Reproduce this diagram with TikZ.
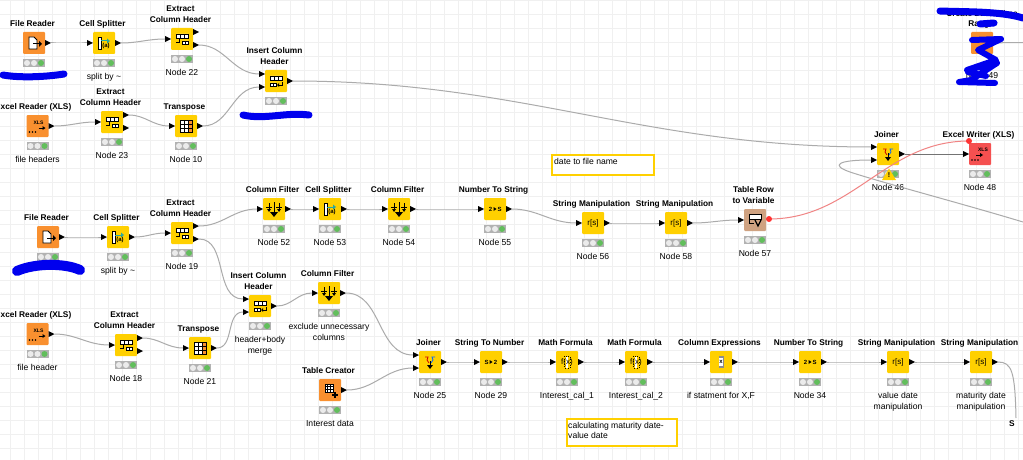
\documentclass[tikz,border=0pt]{standalone}
\usepackage{fontspec}
\setmainfont{Liberation Sans}
\definecolor{kyellow}{HTML}{FFD000}
\definecolor{korange}{HTML}{F9902F}
\definecolor{kred}{HTML}{F55050}
\definecolor{ktan}{HTML}{CFA281}
\definecolor{kgrid}{HTML}{F0F0F0}
\definecolor{kwire}{HTML}{ABABAB}
\definecolor{kflow}{HTML}{F08484}
\definecolor{kgreen}{HTML}{62BE5C}
\definecolor{kblue}{HTML}{0000EE}
\definecolor{kteal}{HTML}{2AA8A0}
\tikzset{
  body/.style={rounded corners=1pt,minimum size=22pt,inner sep=0pt,outer sep=0pt},
  lightbox/.style={fill=black!30,minimum width=22pt,minimum height=8pt,inner sep=0pt,outer sep=0pt},
  toplabel/.style={anchor=south,align=center,inner sep=0pt,text depth=2pt,font=\fontsize{8.3}{10.5}\selectfont\bfseries},
  botlabel/.style={anchor=north,align=center,inner sep=0pt,font=\fontsize{8.6}{10.5}\selectfont},
  icotext/.style={inner sep=0pt,font=\fontsize{6}{6}\selectfont\bfseries},
  wire/.style={draw=kwire,line width=1pt},
  flowwire/.style={draw=kflow,line width=1pt},
  port/.style={fill=black},
  note/.style={draw=kyellow,line width=2pt,fill=white,inner sep=0pt,outer sep=0pt},
  notetext/.style={anchor=north west,align=left,inner sep=0pt,font=\fontsize{8.6}{10.5}\selectfont},
  scribble/.style={draw=kblue,line cap=round,line join=round},
  cell/.style={draw=black,fill=white,line width=.7pt}
}
% ---- icons (drawn around the centre of the node)
\newcommand{\icoFile}{%
  \draw[fill=white,line width=.8pt] (-5,-6) -- (0,-6) -- (3,-3) -- (3,6) -- (-5,6) -- cycle;
  \draw[line width=1pt] (-1,1) -- (6,1);
  \fill (5,-2) -- (8,1) -- (5,4) -- cycle;}
\newcommand{\icoSplit}{%
  \draw[fill=white,line width=.8pt] (-6,-6) rectangle (-3,6);
  \draw[kteal,line width=1pt] (-3,-2) -- (4,-2);
  \fill[kteal] (3,-4.5) -- (6,-2) -- (3,.5) -- cycle;
  \node[icotext] (\cur-ic) at (2,3) {(a)};}
\newcommand{\icoExtract}{%
  \draw[cell] (-6,-5) rectangle (-2,-1) (-2,-5) rectangle (2,-1) (2,-5) rectangle (6,-1);
  \draw[cell] (0,2) rectangle (3,5) (3,2) rectangle (6,5);
  \draw[line width=.9pt] (-3,0) -- (-3,4) (-6,3) -- (-2,3);}
\newcommand{\icoInsert}{%
  \draw[cell] (-6,-5) rectangle (-2,-1) (-2,-5) rectangle (2,-1) (2,-5) rectangle (6,-1);
  \draw[cell] (-6,2) rectangle (-3,5) (-3,2) rectangle (0,5);
  \draw[line width=.9pt] (6,1) -- (6,4) -- (2,4);
  \fill (3,2) -- (1,4) -- (3,6) -- cycle;}
\newcommand{\icoTrans}{%
  \fill[white] (-6,-6) rectangle (6,6);
  \fill[korange] (3,-6) rectangle (6,6);
  \draw[line width=.7pt] (-6,-6) rectangle (6,6)
    (-2,-6) -- (-2,6) (2,-6) -- (2,6) (-6,-2) -- (6,-2) (-6,2) -- (6,2);}
\newcommand{\icoFilter}{%
  \draw[line width=1pt] (0,-7) -- (0,4);
  \fill (-4,3) -- (4,3) -- (0,8) -- cycle;
  \draw[line width=.9pt] (-5,-6) -- (-5,2) (5,-6) -- (5,2) (-8,-2) -- (-2,-2) (2,-2) -- (8,-2);
  \fill (-7,0) -- (-3,0) -- (-5,3) -- cycle (7,0) -- (3,0) -- (5,3) -- cycle;}
\newcommand{\icoXlsRead}{%
  \node[icotext,font=\fontsize{5}{5}\selectfont\bfseries] (\cur-ic) at (1,-3.5) {XLS};
  \draw[line width=.9pt] (1,2) -- (6,2);
  \fill (5,0) -- (8,2) -- (5,4) -- cycle;
  \fill (-8,6) circle (.8) (-5,6) circle (.8) (-2,6) circle (.8);}
\newcommand{\icoXlsWrite}{%
  \node[icotext,font=\fontsize{5}{5}\selectfont\bfseries] (\cur-ic) at (3,-4) {XLS};
  \draw[line width=.9pt] (-4,1) -- (1,1);
  \fill (0,-1) -- (3,1) -- (0,3) -- cycle;
  \fill (-8,6) circle (.8) (-5,6) circle (.8) (-2,6) circle (.8);}
\newcommand{\icoNumStr}{%
  \node[icotext] (\cur-ic) at (-4.5,0) {2};
  \node[icotext] (\cur-ic2) at (4.5,0) {S};
  \fill (-1.5,-2) -- (1.5,0) -- (-1.5,2) -- cycle;}
\newcommand{\icoStrNum}{%
  \node[icotext] (\cur-ic) at (-4.5,0) {S};
  \node[icotext] (\cur-ic2) at (4.5,0) {2};
  \fill (-1.5,-2) -- (1.5,0) -- (-1.5,2) -- cycle;}
\newcommand{\icoStrMan}{%
  \node[icotext,font=\fontsize{8}{8}\selectfont] (\cur-ic) at (0,0) {r[s]};}
\newcommand{\icoMath}{%
  \draw[white,line width=1.6pt] (0,-5.5) -- (0,5.5);
  \draw[line width=.6pt,dotted] (-3,-6) rectangle (3,6);
  \node[icotext,font=\fontsize{8}{8}\selectfont] (\cur-ic) at (0,0) {f(x)};}
\newcommand{\icoExpr}{%
  \fill[black!45] (-2.5,-6) rectangle (2.5,6);
  \fill[white] (-1.8,-4) rectangle (1.8,4);
  \node[icotext] (\cur-ic) at (0,0) {x};}
\newcommand{\icoCreator}{%
  \fill[white] (-5,-6) rectangle (3,2);
  \draw[line width=.6pt] (-5,-6) rectangle (3,2) (-2.3,-6) -- (-2.3,2) (.3,-6) -- (.3,2)
     (-5,-3.3) -- (3,-3.3) (-5,-.7) -- (3,-.7);
  \draw[line width=1.2pt] (2,5) -- (8,5) (5,2) -- (5,8);}
\newcommand{\icoJoin}{%
  \draw[red!80!black,line width=.8pt] (-5,-5) -- (-2,-5) -- (-3,-2) -- (-1,1);
  \draw[blue!60!cyan,line width=.8pt] (5,-5) -- (2,-5) -- (3,-2) -- (1,1);
  \draw[line width=1pt] (0,-1) -- (0,5);
  \fill (-3,3) -- (3,3) -- (0,7) -- cycle;}
\newcommand{\icoRowVar}{%
  \draw[cell] (-6,-6) rectangle (6,-1);
  \draw[line width=.8pt] (-6,-1) -- (-6,3) -- (-1,3);
  \draw[line width=1.2pt] (0,0) -- (3,6) -- (6,0);}
% ---- a workflow node: name, x, y, colour, top label, bottom label, icon
\newcommand{\knode}[7]{%
  \begin{scope}[shift={(#2,#3)}]
    \def\cur{#1}%
    \node[body,fill=#4] (#1) at (0,0) {};
    #7
    \node[lightbox] (#1-lights) at (0,20) {};
    \fill[black!8] (-7,20) circle (3) (0,20) circle (3);
    \fill[kgreen] (7,20) circle (3);
    \node[toplabel] (#1-top) at (-1.5,-14.5) {#5};
    \node[botlabel] (#1-bot) at (0,30.5) {#6};
  \end{scope}}
\newcommand{\inport}[4]{% node, x, y, suffix
  \coordinate (#1-#4) at (#2-17,#3);
  \fill[port] (#2-17,#3-3) -- (#2-11,#3) -- (#2-17,#3+3) -- cycle;}
\newcommand{\outport}[4]{%
  \coordinate (#1-#4) at (#2+17,#3);
  \fill[port] (#2+11,#3-3) -- (#2+17,#3) -- (#2+11,#3+3) -- cycle;}
% one-in/one-out, two-out, two-in helpers
\newcommand{\iopair}[3]{\inport{#1}{#2}{#3}{in}\outport{#1}{#2}{#3}{out}}
\newcommand{\twoout}[3]{\inport{#1}{#2}{#3}{in}\outport{#1}{#2}{#3-7}{outa}\outport{#1}{#2}{#3+6}{outb}}
\newcommand{\twoin}[3]{\inport{#1}{#2}{#3-7}{ina}\inport{#1}{#2}{#3+6}{inb}\outport{#1}{#2}{#3}{out}}
\newcommand{\link}[2]{\draw[wire] (#1) to[out=0,in=180] (#2);}
\begin{document}
\begin{tikzpicture}[x=1pt,y=-1pt]
\useasboundingbox (0,0) rectangle (1023,460);
\fill[white] (0,0) rectangle (1023,460);
\foreach \gx in {10,24,...,1020} \draw[kgrid,line width=.8pt] (\gx,0) -- (\gx,460);
\foreach \gy in {0,14,...,456} \draw[kgrid,line width=.8pt] (0,\gy) -- (1023,\gy);

% annotations
\node[note,minimum width=102pt,minimum height=20pt] (noteA) at (603,165) {};
\node[notetext] (noteAt) at (554,158) {date to file name};
\node[note,minimum width=110pt,minimum height=27pt] (noteB) at (621.5,432.5) {};
\node[notetext] (noteBt) at (568,422) {calculating maturity date-\\value date};

% --- first block
\knode{fra}{34}{43}{korange}{File Reader}{}{\icoFile}\outport{fra}{34}{43}{out}
\knode{csa}{104}{43}{kyellow}{Cell Splitter}{split by \textasciitilde}{\icoSplit}\iopair{csa}{104}{43}
\knode{exa}{182}{39}{kyellow}{Extract\\Column Header}{Node 22}{\icoExtract}\twoout{exa}{182}{39}
\knode{ina}{276}{81}{kyellow}{Insert Column\\Header}{}{\icoInsert}\twoin{ina}{276}{81}
\knode{xra}{37.5}{126}{korange}{xcel Reader (XLS)}{file headers}{\icoXlsRead}\outport{xra}{37.5}{126}{out}
\knode{exb}{112}{122}{kyellow}{Extract\\Column Header}{Node 23}{\icoExtract}\twoout{exb}{112}{122}
\knode{tra}{186}{126}{kyellow}{Transpose}{Node 10}{\icoTrans}\iopair{tra}{186}{126}

% --- second block
\knode{frb}{48}{237}{korange}{File Reader}{}{\icoFile}\outport{frb}{48}{237}{out}
\knode{csb}{118}{237}{kyellow}{Cell Splitter}{split by \textasciitilde}{\icoSplit}\iopair{csb}{118}{237}
\knode{exc}{182}{233}{kyellow}{Extract\\Column Header}{Node 19}{\icoExtract}\twoout{exc}{182}{233}
\knode{cfa}{274}{209}{kyellow}{Column Filter}{Node 52}{\icoFilter}\iopair{cfa}{274}{209}
\knode{csc}{330}{209}{kyellow}{Cell Splitter}{Node 53}{\icoSplit}\iopair{csc}{330}{209}
\knode{cfb}{399}{209}{kyellow}{Column Filter}{Node 54}{\icoFilter}\iopair{cfb}{399}{209}
\knode{nsa}{495}{209}{kyellow}{Number To String}{Node 55}{\icoNumStr}\iopair{nsa}{495}{209}
\knode{sma}{593}{223}{kyellow}{String Manipulation}{Node 56}{\icoStrMan}\iopair{sma}{593}{223}
\knode{smb}{676}{223}{kyellow}{String Manipulation}{Node 58}{\icoStrMan}\iopair{smb}{676}{223}
\knode{trv}{755}{220}{ktan}{Table Row\\to Variable}{Node 57}{\icoRowVar}\inport{trv}{755}{220}{in}
\coordinate (trv-var) at (769,219);
\knode{inb}{260}{306}{kyellow}{Insert Column\\Header}{header+body\\merge}{\icoInsert}\twoin{inb}{260}{306}
\knode{cfc}{329}{293}{kyellow}{Column Filter}{exclude unnecessary\\columns}{\icoFilter}\iopair{cfc}{329}{293}

% --- third block
\knode{xrb}{37.5}{334}{korange}{xcel Reader (XLS)}{file header}{\icoXlsRead}\outport{xrb}{37.5}{334}{out}
\knode{exd}{126}{345}{kyellow}{Extract\\Column Header}{Node 18}{\icoExtract}\twoout{exd}{126}{345}
\knode{trb}{200}{348}{kyellow}{Transpose}{Node 21}{\icoTrans}\iopair{trb}{200}{348}
\knode{joa}{430}{362}{kyellow}{Joiner}{Node 25}{\icoJoin}\twoin{joa}{430}{362}
\knode{tca}{330}{390}{korange}{Table Creator}{Interest data}{\icoCreator}\outport{tca}{330}{390}{out}
\knode{sna}{491}{362}{kyellow}{String To Number}{Node 29}{\icoStrNum}\iopair{sna}{491}{362}
\knode{mfa}{567}{362}{kyellow}{Math Formula}{Interest\_cal\_1}{\icoMath}\iopair{mfa}{567}{362}
\knode{mfb}{636}{362}{kyellow}{Math Formula}{Interest\_cal\_2}{\icoMath}\iopair{mfb}{636}{362}
\knode{cea}{721}{362}{kyellow}{Column Expressions}{if statment for X,F}{\icoExpr}\iopair{cea}{721}{362}
\knode{nsb}{810}{362}{kyellow}{Number To String}{Node 34}{\icoNumStr}\iopair{nsb}{810}{362}
\knode{smc}{898}{362}{kyellow}{String Manipulation}{value date\\manipulation}{\icoStrMan}\iopair{smc}{898}{362}
\knode{smd}{981}{362}{kyellow}{String Manipulation}{maturity date\\manipulation}{\icoStrMan}\iopair{smd}{981}{362}
\node[toplabel,anchor=center,text depth=0pt] (lastS) at (1012,424) {S};
\coordinate (lastEnd) at (1016,418);

% --- right side
\knode{job}{888}{154}{kyellow}{Joiner}{Node 46}{\icoJoin}\twoin{job}{888}{154}
\knode{ewa}{980}{154}{kred}{Excel Writer (XLS)}{Node 48}{\icoXlsWrite}\inport{ewa}{980}{154}{in}
\coordinate (ewa-var) at (969,141);
\fill[kyellow] (889,168.5) -- (896,180) -- (882,180) -- cycle;
\node[icotext,font=\fontsize{7}{7}\selectfont\bfseries] (warn) at (889,175.5) {!};
\coordinate (rightEnd) at (1023,222);
\coordinate (rightOut) at (1023,42.5);
\node[body,fill=korange] (dtr) at (982,43) {};
\node[toplabel] (dtrTop) at (982,19) {Create Date\&Time};
\node[toplabel] (dtrMid) at (981,29) {Range};
\node[botlabel] (dtrBot) at (982,72) {Node 49};

% connectors
\link{fra-out}{csa-in}\link{csa-out}{exa-in}\link{exa-outb}{ina-ina}
\link{xra-out}{exb-in}\link{exb-outa}{tra-in}\link{tra-out}{ina-inb}
\link{ina-out}{job-ina}
\link{frb-out}{csb-in}\link{csb-out}{exc-in}\link{exc-outa}{cfa-in}\link{cfa-out}{csc-in}
\link{csc-out}{cfb-in}\link{cfb-out}{nsa-in}\link{nsa-out}{sma-in}\link{sma-out}{smb-in}
\link{smb-out}{trv-in}\link{exc-outb}{inb-ina}\link{inb-out}{cfc-in}
\link{xrb-out}{exd-in}\link{exd-outa}{trb-in}\link{trb-out}{inb-inb}
\link{cfc-out}{joa-ina}\link{tca-out}{joa-inb}
\link{joa-out}{sna-in}\link{sna-out}{mfa-in}\link{mfa-out}{mfb-in}\link{mfb-out}{cea-in}
\link{cea-out}{nsb-in}\link{nsb-out}{smc-in}\link{smc-out}{smd-in}
\draw[wire] (smd-out) .. controls (1012,362) and (1015,372) .. (lastEnd);
\draw[wire] (rightEnd) .. controls (960,203) and (880,182) .. (850,172) .. controls (830,165) and (838,160) .. (job-inb);
\draw[wire,draw=black!55] (job-out) -- (ewa-in);
\draw[wire] (dtr) -- (rightOut);
\draw[flowwire] (trv-var) to[out=0,in=180] (ewa-var);
\fill[red!80!white] (trv-var) circle (3) (ewa-var) circle (3);

% scribbles
\draw[scribble,line width=7pt] (3,75) .. controls (20,78) and (45,77) .. (64,74);
\draw[scribble,line width=7pt] (243,115) .. controls (265,120) and (285,112) .. (309,115);
\draw[scribble,line width=10pt] (17,271) .. controls (35,263) and (65,263) .. (80,270);
\draw[scribble,line width=7pt] (940,11) .. controls (965,12) and (1000,11) .. (1023,18);
\draw[scribble,line width=7pt] (980,24) -- (994,23);
\draw[scribble,line width=6pt] (972,40) -- (1001,39) -- (978,50) -- (996,60) -- (967,70) -- (997,63) -- (971,80) -- (959,82) -- (995,83);
\draw[scribble,line width=6pt] (968,72) -- (986,76);
\end{tikzpicture}
\end{document}
